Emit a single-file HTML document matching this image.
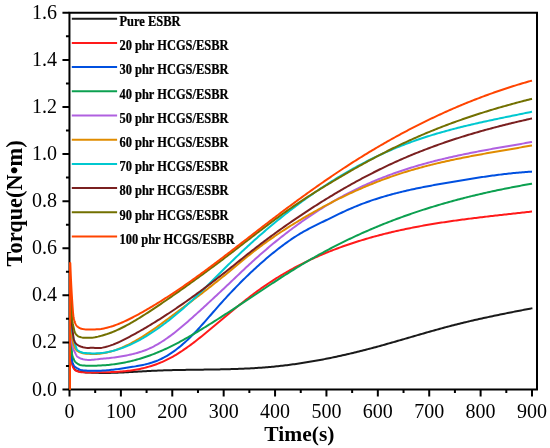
<!DOCTYPE html>
<html><head><meta charset="utf-8"><title>Torque vs Time</title><style>html,body{margin:0;padding:0;background:#fff;width:550px;height:448px;overflow:hidden}svg{display:block}</style></head><body>
<svg width="550" height="448" viewBox="0 0 550 448">
<rect width="550" height="448" fill="#fff"/>
<g stroke="#000" stroke-width="2" fill="none">
<path stroke-linecap="square" d="M69.45 12.70L537.00 12.70L537.00 389.60L69.45 389.60Z"/>
<path d="M62.45 389.50H69.45M65.95 365.96H69.45M62.45 342.41H69.45M65.95 318.87H69.45M62.45 295.32H69.45M65.95 271.78H69.45M62.45 248.24H69.45M65.95 224.69H69.45M62.45 201.15H69.45M65.95 177.61H69.45M62.45 154.06H69.45M65.95 130.52H69.45M62.45 106.97H69.45M65.95 83.43H69.45M62.45 59.89H69.45M65.95 36.34H69.45M62.45 12.80H69.45M69.50 389.60V396.60M95.19 389.60V393.10M120.89 389.60V396.60M146.58 389.60V393.10M172.28 389.60V396.60M197.97 389.60V393.10M223.67 389.60V396.60M249.36 389.60V393.10M275.06 389.60V396.60M300.75 389.60V393.10M326.44 389.60V396.60M352.14 389.60V393.10M377.83 389.60V396.60M403.53 389.60V393.10M429.22 389.60V396.60M454.92 389.60V393.10M480.61 389.60V396.60M506.31 389.60V393.10M532.00 389.60V396.60"/>
</g>
<g fill="none" stroke-width="2.00" stroke-linejoin="round" stroke-linecap="butt">
<path stroke="#1a1a1a" d="M70.0 389.5L70.0 330.0L70.50 330.00L70.75 343.36L71.00 352.00L71.25 355.80L71.50 358.58L71.75 360.57L72.00 362.00L72.25 363.15L72.50 364.16L72.75 365.04L73.00 365.81L73.25 366.48L73.50 367.06L73.75 367.56L74.00 368.00L74.25 368.40L74.50 368.78L74.75 369.12L75.00 369.43L75.25 369.71L75.50 369.94L75.75 370.14L76.00 370.30L76.25 370.43L76.50 370.55L76.75 370.67L77.00 370.78L77.25 370.88L77.50 370.97L77.75 371.06L78.00 371.14L78.25 371.21L78.50 371.28L78.75 371.35L79.00 371.41L79.25 371.46L79.50 371.51L79.75 371.56L80.00 371.60L81.50 371.84L83.00 372.05L84.50 372.23L86.00 372.38L87.50 372.50L89.00 372.57L90.50 372.60L92.00 372.64L93.50 372.69L95.00 372.75L96.50 372.80L98.00 372.86L99.50 372.91L101.00 372.94L102.50 372.96L104.00 372.96L105.50 372.96L107.00 372.95L108.50 372.93L110.00 372.90L111.50 372.87L113.00 372.83L114.50 372.78L116.00 372.73L117.50 372.68L119.00 372.62L120.50 372.55L122.00 372.48L123.50 372.41L125.00 372.33L126.50 372.25L128.00 372.17L129.50 372.09L131.00 372.00L132.50 371.92L134.00 371.83L135.50 371.74L137.00 371.65L138.50 371.56L140.00 371.47L141.50 371.38L143.00 371.30L144.50 371.21L146.00 371.13L147.50 371.05L149.00 370.97L150.50 370.90L152.00 370.82L153.50 370.76L155.00 370.69L156.50 370.63L158.00 370.57L159.50 370.51L161.00 370.46L162.50 370.41L164.00 370.36L165.50 370.31L167.00 370.27L168.50 370.23L170.00 370.19L171.50 370.15L173.00 370.11L174.50 370.08L176.00 370.05L177.50 370.02L179.00 369.99L180.50 369.96L182.00 369.93L183.50 369.91L185.00 369.88L186.50 369.86L188.00 369.84L189.50 369.82L191.00 369.79L192.50 369.77L194.00 369.75L195.50 369.73L197.00 369.71L198.50 369.70L200.00 369.68L201.50 369.66L203.00 369.64L204.50 369.62L206.00 369.60L207.50 369.58L209.00 369.55L210.50 369.53L212.00 369.51L213.50 369.49L215.00 369.46L216.50 369.44L218.00 369.41L219.50 369.38L221.00 369.35L222.50 369.32L224.00 369.29L225.50 369.25L227.00 369.22L228.50 369.18L230.00 369.14L231.50 369.10L233.00 369.05L234.50 369.00L236.00 368.96L237.50 368.90L239.00 368.85L240.50 368.79L242.00 368.73L243.50 368.67L245.00 368.60L246.50 368.54L248.00 368.46L249.50 368.39L251.00 368.31L252.50 368.23L254.00 368.14L255.50 368.05L257.00 367.96L258.50 367.86L260.00 367.76L261.50 367.65L263.00 367.54L264.50 367.43L266.00 367.31L267.50 367.18L269.00 367.05L270.50 366.92L272.00 366.78L273.50 366.64L275.00 366.49L276.50 366.34L278.00 366.18L279.50 366.02L281.00 365.86L282.50 365.69L284.00 365.51L285.50 365.33L287.00 365.15L288.50 364.96L290.00 364.76L291.50 364.56L293.00 364.36L294.50 364.15L296.00 363.94L297.50 363.73L299.00 363.51L300.50 363.28L302.00 363.05L303.50 362.82L305.00 362.58L306.50 362.34L308.00 362.10L309.50 361.85L311.00 361.59L312.50 361.33L314.00 361.07L315.50 360.81L317.00 360.54L318.50 360.26L320.00 359.98L321.50 359.70L323.00 359.41L324.50 359.12L326.00 358.83L327.50 358.53L329.00 358.23L330.50 357.93L332.00 357.62L333.50 357.31L335.00 356.99L336.50 356.67L338.00 356.35L339.50 356.02L341.00 355.69L342.50 355.35L344.00 355.02L345.50 354.67L347.00 354.33L348.50 353.98L350.00 353.63L351.50 353.27L353.00 352.92L354.50 352.55L356.00 352.19L357.50 351.82L359.00 351.45L360.50 351.07L362.00 350.70L363.50 350.32L365.00 349.93L366.50 349.54L368.00 349.15L369.50 348.76L371.00 348.36L372.50 347.96L374.00 347.56L375.50 347.16L377.00 346.75L378.50 346.34L380.00 345.92L381.50 345.51L383.00 345.09L384.50 344.67L386.00 344.25L387.50 343.83L389.00 343.40L390.50 342.98L392.00 342.55L393.50 342.12L395.00 341.69L396.50 341.26L398.00 340.82L399.50 340.39L401.00 339.96L402.50 339.52L404.00 339.09L405.50 338.65L407.00 338.21L408.50 337.78L410.00 337.34L411.50 336.90L413.00 336.47L414.50 336.03L416.00 335.60L417.50 335.16L419.00 334.73L420.50 334.29L422.00 333.86L423.50 333.43L425.00 333.00L426.50 332.57L428.00 332.14L429.50 331.71L431.00 331.29L432.50 330.87L434.00 330.44L435.50 330.02L437.00 329.61L438.50 329.19L440.00 328.78L441.50 328.37L443.00 327.96L444.50 327.56L446.00 327.15L447.50 326.75L449.00 326.36L450.50 325.96L452.00 325.57L453.50 325.19L455.00 324.80L456.50 324.42L458.00 324.04L459.50 323.67L461.00 323.30L462.50 322.93L464.00 322.57L465.50 322.21L467.00 321.85L468.50 321.49L470.00 321.14L471.50 320.79L473.00 320.44L474.50 320.10L476.00 319.76L477.50 319.42L479.00 319.08L480.50 318.75L482.00 318.41L483.50 318.08L485.00 317.76L486.50 317.43L488.00 317.11L489.50 316.79L491.00 316.47L492.50 316.15L494.00 315.83L495.50 315.52L497.00 315.21L498.50 314.90L500.00 314.59L501.50 314.28L503.00 313.98L504.50 313.67L506.00 313.37L507.50 313.07L509.00 312.77L510.50 312.47L512.00 312.17L513.50 311.88L515.00 311.58L516.50 311.29L518.00 310.99L519.50 310.70L521.00 310.41L522.50 310.12L524.00 309.83L525.50 309.54L527.00 309.25L528.50 308.96L530.00 308.67L531.50 308.38L532.40 308.21"/>
<path stroke="#ff1a1a" d="M70.0 389.5L70.0 320.0L70.50 320.00L70.75 333.79L71.00 345.00L71.25 354.53L71.50 359.18L71.75 361.58L72.00 363.31L72.25 364.55L72.50 365.50L72.75 366.29L73.00 366.96L73.25 367.54L73.50 368.02L73.75 368.44L74.00 368.80L74.25 369.13L74.50 369.44L74.75 369.72L75.00 369.98L75.25 370.21L75.50 370.41L75.75 370.57L76.00 370.70L76.25 370.81L76.50 370.91L76.75 371.01L77.00 371.11L77.25 371.20L77.50 371.29L77.75 371.37L78.00 371.45L78.25 371.52L78.50 371.60L78.75 371.66L79.00 371.73L79.25 371.79L79.50 371.84L79.75 371.90L80.00 371.95L81.50 372.16L83.00 372.26L84.50 372.35L86.00 372.42L87.50 372.47L89.00 372.48L90.50 372.46L92.00 372.44L93.50 372.41L95.00 372.39L96.50 372.36L98.00 372.34L99.50 372.33L101.00 372.32L102.50 372.31L104.00 372.29L105.50 372.27L107.00 372.23L108.50 372.20L110.00 372.15L111.50 372.10L113.00 372.04L114.50 371.97L116.00 371.89L117.50 371.80L119.00 371.70L120.50 371.59L122.00 371.47L123.50 371.33L125.00 371.19L126.50 371.02L128.00 370.85L129.50 370.66L131.00 370.46L132.50 370.24L134.00 370.01L135.50 369.75L137.00 369.49L138.50 369.20L140.00 368.90L141.50 368.57L143.00 368.23L144.50 367.87L146.00 367.49L147.50 367.09L149.00 366.66L150.50 366.22L152.00 365.75L153.50 365.26L155.00 364.74L156.50 364.20L158.00 363.64L159.50 363.05L161.00 362.44L162.50 361.80L164.00 361.13L165.50 360.44L167.00 359.71L168.50 358.96L170.00 358.18L171.50 357.37L173.00 356.54L174.50 355.67L176.00 354.78L177.50 353.86L179.00 352.92L180.50 351.95L182.00 350.96L183.50 349.95L185.00 348.92L186.50 347.87L188.00 346.80L189.50 345.71L191.00 344.60L192.50 343.47L194.00 342.33L195.50 341.18L197.00 340.01L198.50 338.83L200.00 337.64L201.50 336.43L203.00 335.22L204.50 334.00L206.00 332.77L207.50 331.53L209.00 330.28L210.50 329.03L212.00 327.78L213.50 326.52L215.00 325.26L216.50 324.00L218.00 322.73L219.50 321.47L221.00 320.21L222.50 318.95L224.00 317.69L225.50 316.44L227.00 315.18L228.50 313.93L230.00 312.69L231.50 311.45L233.00 310.21L234.50 308.98L236.00 307.76L237.50 306.54L239.00 305.32L240.50 304.12L242.00 302.92L243.50 301.73L245.00 300.54L246.50 299.37L248.00 298.20L249.50 297.05L251.00 295.90L252.50 294.76L254.00 293.64L255.50 292.52L257.00 291.42L258.50 290.33L260.00 289.25L261.50 288.18L263.00 287.13L264.50 286.09L266.00 285.06L267.50 284.05L269.00 283.04L270.50 282.05L272.00 281.07L273.50 280.10L275.00 279.15L276.50 278.20L278.00 277.27L279.50 276.35L281.00 275.44L282.50 274.54L284.00 273.65L285.50 272.78L287.00 271.91L288.50 271.06L290.00 270.21L291.50 269.38L293.00 268.56L294.50 267.74L296.00 266.94L297.50 266.15L299.00 265.37L300.50 264.59L302.00 263.83L303.50 263.08L305.00 262.34L306.50 261.60L308.00 260.88L309.50 260.16L311.00 259.46L312.50 258.76L314.00 258.07L315.50 257.39L317.00 256.72L318.50 256.06L320.00 255.41L321.50 254.76L323.00 254.13L324.50 253.50L326.00 252.88L327.50 252.27L329.00 251.66L330.50 251.06L332.00 250.47L333.50 249.89L335.00 249.32L336.50 248.75L338.00 248.19L339.50 247.64L341.00 247.09L342.50 246.55L344.00 246.02L345.50 245.50L347.00 244.98L348.50 244.46L350.00 243.96L351.50 243.46L353.00 242.96L354.50 242.47L356.00 241.99L357.50 241.52L359.00 241.05L360.50 240.58L362.00 240.12L363.50 239.67L365.00 239.22L366.50 238.78L368.00 238.34L369.50 237.91L371.00 237.49L372.50 237.07L374.00 236.65L375.50 236.25L377.00 235.84L378.50 235.44L380.00 235.05L381.50 234.66L383.00 234.28L384.50 233.90L386.00 233.52L387.50 233.16L389.00 232.79L390.50 232.43L392.00 232.08L393.50 231.73L395.00 231.38L396.50 231.04L398.00 230.70L399.50 230.37L401.00 230.04L402.50 229.72L404.00 229.40L405.50 229.08L407.00 228.77L408.50 228.46L410.00 228.16L411.50 227.86L413.00 227.57L414.50 227.27L416.00 226.99L417.50 226.70L419.00 226.42L420.50 226.14L422.00 225.87L423.50 225.60L425.00 225.33L426.50 225.07L428.00 224.81L429.50 224.55L431.00 224.30L432.50 224.05L434.00 223.80L435.50 223.56L437.00 223.31L438.50 223.08L440.00 222.84L441.50 222.61L443.00 222.38L444.50 222.15L446.00 221.92L447.50 221.70L449.00 221.48L450.50 221.26L452.00 221.05L453.50 220.84L455.00 220.63L456.50 220.42L458.00 220.21L459.50 220.01L461.00 219.81L462.50 219.61L464.00 219.41L465.50 219.21L467.00 219.02L468.50 218.82L470.00 218.63L471.50 218.44L473.00 218.26L474.50 218.07L476.00 217.89L477.50 217.70L479.00 217.52L480.50 217.34L482.00 217.16L483.50 216.98L485.00 216.81L486.50 216.63L488.00 216.46L489.50 216.28L491.00 216.11L492.50 215.94L494.00 215.77L495.50 215.60L497.00 215.43L498.50 215.26L500.00 215.09L501.50 214.92L503.00 214.76L504.50 214.59L506.00 214.42L507.50 214.26L509.00 214.09L510.50 213.92L512.00 213.76L513.50 213.59L515.00 213.43L516.50 213.26L518.00 213.10L519.50 212.93L521.00 212.76L522.50 212.60L524.00 212.43L525.50 212.26L527.00 212.10L528.50 211.93L530.00 211.76L531.50 211.59L532.00 211.53"/>
<path stroke="#0050e0" d="M70.0 389.5L70.0 315.0L70.50 315.00L70.75 327.83L71.00 338.58L71.25 346.31L71.50 352.45L71.75 357.30L72.00 360.00L72.25 361.22L72.50 362.23L72.75 363.05L73.00 363.73L73.25 364.27L73.50 364.73L73.75 365.13L74.00 365.50L74.25 365.85L74.50 366.16L74.75 366.45L75.00 366.70L75.25 366.93L75.50 367.14L75.75 367.33L76.00 367.50L76.25 367.66L76.50 367.83L76.75 367.99L77.00 368.14L77.25 368.30L77.50 368.45L77.75 368.60L78.00 368.74L78.25 368.88L78.50 369.01L78.75 369.14L79.00 369.26L79.25 369.38L79.50 369.49L79.75 369.60L80.00 369.69L81.50 370.12L83.00 370.31L84.50 370.45L86.00 370.56L87.50 370.65L89.00 370.69L90.50 370.70L92.00 370.71L93.50 370.73L95.00 370.75L96.50 370.76L98.00 370.76L99.50 370.73L101.00 370.68L102.50 370.61L104.00 370.51L105.50 370.41L107.00 370.29L108.50 370.15L110.00 370.01L111.50 369.85L113.00 369.68L114.50 369.50L116.00 369.31L117.50 369.12L119.00 368.91L120.50 368.70L122.00 368.48L123.50 368.26L125.00 368.04L126.50 367.80L128.00 367.57L129.50 367.34L131.00 367.10L132.50 366.86L134.00 366.62L135.50 366.37L137.00 366.11L138.50 365.84L140.00 365.56L141.50 365.26L143.00 364.94L144.50 364.61L146.00 364.25L147.50 363.87L149.00 363.46L150.50 363.02L152.00 362.56L153.50 362.06L155.00 361.52L156.50 360.95L158.00 360.34L159.50 359.69L161.00 359.00L162.50 358.26L164.00 357.48L165.50 356.65L167.00 355.78L168.50 354.87L170.00 353.92L171.50 352.93L173.00 351.90L174.50 350.83L176.00 349.71L177.50 348.56L179.00 347.38L180.50 346.15L182.00 344.88L183.50 343.58L185.00 342.25L186.50 340.87L188.00 339.46L189.50 338.02L191.00 336.54L192.50 335.03L194.00 333.49L195.50 331.93L197.00 330.33L198.50 328.71L200.00 327.08L201.50 325.42L203.00 323.75L204.50 322.06L206.00 320.36L207.50 318.66L209.00 316.94L210.50 315.22L212.00 313.50L213.50 311.78L215.00 310.07L216.50 308.35L218.00 306.65L219.50 304.95L221.00 303.27L222.50 301.60L224.00 299.94L225.50 298.30L227.00 296.67L228.50 295.05L230.00 293.44L231.50 291.85L233.00 290.27L234.50 288.70L236.00 287.15L237.50 285.61L239.00 284.08L240.50 282.56L242.00 281.06L243.50 279.57L245.00 278.10L246.50 276.64L248.00 275.19L249.50 273.75L251.00 272.33L252.50 270.92L254.00 269.53L255.50 268.15L257.00 266.78L258.50 265.42L260.00 264.08L261.50 262.75L263.00 261.44L264.50 260.14L266.00 258.85L267.50 257.58L269.00 256.32L270.50 255.07L272.00 253.84L273.50 252.62L275.00 251.42L276.50 250.23L278.00 249.05L279.50 247.89L281.00 246.74L282.50 245.61L284.00 244.49L285.50 243.40L287.00 242.32L288.50 241.25L290.00 240.21L291.50 239.19L293.00 238.18L294.50 237.19L296.00 236.23L297.50 235.28L299.00 234.36L300.50 233.46L302.00 232.58L303.50 231.72L305.00 230.88L306.50 230.06L308.00 229.25L309.50 228.46L311.00 227.68L312.50 226.92L314.00 226.16L315.50 225.41L317.00 224.67L318.50 223.93L320.00 223.19L321.50 222.46L323.00 221.73L324.50 221.00L326.00 220.27L327.50 219.54L329.00 218.80L330.50 218.07L332.00 217.33L333.50 216.60L335.00 215.87L336.50 215.14L338.00 214.42L339.50 213.70L341.00 212.98L342.50 212.27L344.00 211.57L345.50 210.88L347.00 210.20L348.50 209.52L350.00 208.86L351.50 208.21L353.00 207.57L354.50 206.94L356.00 206.32L357.50 205.71L359.00 205.11L360.50 204.52L362.00 203.94L363.50 203.38L365.00 202.82L366.50 202.27L368.00 201.73L369.50 201.20L371.00 200.68L372.50 200.17L374.00 199.67L375.50 199.18L377.00 198.69L378.50 198.22L380.00 197.75L381.50 197.29L383.00 196.84L384.50 196.39L386.00 195.96L387.50 195.53L389.00 195.11L390.50 194.69L392.00 194.29L393.50 193.89L395.00 193.49L396.50 193.11L398.00 192.73L399.50 192.35L401.00 191.98L402.50 191.62L404.00 191.26L405.50 190.91L407.00 190.57L408.50 190.23L410.00 189.89L411.50 189.56L413.00 189.24L414.50 188.92L416.00 188.60L417.50 188.29L419.00 187.98L420.50 187.67L422.00 187.37L423.50 187.08L425.00 186.79L426.50 186.50L428.00 186.21L429.50 185.93L431.00 185.65L432.50 185.37L434.00 185.09L435.50 184.82L437.00 184.55L438.50 184.28L440.00 184.02L441.50 183.75L443.00 183.49L444.50 183.23L446.00 182.97L447.50 182.71L449.00 182.45L450.50 182.19L452.00 181.93L453.50 181.68L455.00 181.42L456.50 181.17L458.00 180.92L459.50 180.66L461.00 180.41L462.50 180.17L464.00 179.92L465.50 179.67L467.00 179.43L468.50 179.18L470.00 178.94L471.50 178.70L473.00 178.47L474.50 178.23L476.00 178.00L477.50 177.77L479.00 177.54L480.50 177.31L482.00 177.09L483.50 176.87L485.00 176.65L486.50 176.43L488.00 176.22L489.50 176.01L491.00 175.80L492.50 175.60L494.00 175.40L495.50 175.20L497.00 175.00L498.50 174.81L500.00 174.63L501.50 174.44L503.00 174.26L504.50 174.08L506.00 173.91L507.50 173.74L509.00 173.58L510.50 173.42L512.00 173.26L513.50 173.11L515.00 172.96L516.50 172.82L518.00 172.68L519.50 172.54L521.00 172.41L522.50 172.29L524.00 172.17L525.50 172.06L527.00 171.95L528.50 171.84L530.00 171.74L531.50 171.65L532.00 171.62"/>
<path stroke="#0ca050" d="M70.0 389.5L70.0 310.0L70.50 310.00L70.75 323.04L71.00 333.82L71.25 341.20L71.50 346.66L71.75 350.88L72.00 353.40L72.25 354.75L72.50 355.80L72.75 356.63L73.00 357.31L73.25 357.91L73.50 358.50L73.75 359.10L74.00 359.67L74.25 360.21L74.50 360.71L74.75 361.15L75.00 361.54L75.25 361.85L75.50 362.09L75.75 362.31L76.00 362.52L76.25 362.73L76.50 362.92L76.75 363.12L77.00 363.30L77.25 363.48L77.50 363.65L77.75 363.81L78.00 363.97L78.25 364.12L78.50 364.26L78.75 364.39L79.00 364.52L79.25 364.63L79.50 364.74L79.75 364.85L80.00 364.94L81.50 365.34L83.00 365.49L84.50 365.60L86.00 365.69L87.50 365.76L89.00 365.79L90.50 365.78L92.00 365.76L93.50 365.73L95.00 365.69L96.50 365.64L98.00 365.59L99.50 365.53L101.00 365.46L102.50 365.37L104.00 365.27L105.50 365.15L107.00 365.02L108.50 364.88L110.00 364.73L111.50 364.56L113.00 364.38L114.50 364.18L116.00 363.98L117.50 363.75L119.00 363.52L120.50 363.27L122.00 363.00L123.50 362.72L125.00 362.43L126.50 362.13L128.00 361.80L129.50 361.47L131.00 361.12L132.50 360.75L134.00 360.37L135.50 359.98L137.00 359.57L138.50 359.15L140.00 358.71L141.50 358.25L143.00 357.79L144.50 357.30L146.00 356.80L147.50 356.29L149.00 355.76L150.50 355.22L152.00 354.66L153.50 354.09L155.00 353.50L156.50 352.90L158.00 352.28L159.50 351.65L161.00 351.01L162.50 350.35L164.00 349.68L165.50 348.99L167.00 348.30L168.50 347.58L170.00 346.86L171.50 346.12L173.00 345.37L174.50 344.61L176.00 343.84L177.50 343.06L179.00 342.26L180.50 341.46L182.00 340.64L183.50 339.82L185.00 338.99L186.50 338.15L188.00 337.29L189.50 336.44L191.00 335.57L192.50 334.70L194.00 333.81L195.50 332.93L197.00 332.03L198.50 331.13L200.00 330.23L201.50 329.32L203.00 328.40L204.50 327.48L206.00 326.56L207.50 325.63L209.00 324.69L210.50 323.75L212.00 322.81L213.50 321.87L215.00 320.92L216.50 319.97L218.00 319.01L219.50 318.06L221.00 317.10L222.50 316.13L224.00 315.17L225.50 314.20L227.00 313.23L228.50 312.26L230.00 311.29L231.50 310.31L233.00 309.33L234.50 308.35L236.00 307.37L237.50 306.39L239.00 305.40L240.50 304.42L242.00 303.43L243.50 302.44L245.00 301.45L246.50 300.46L248.00 299.46L249.50 298.47L251.00 297.47L252.50 296.48L254.00 295.48L255.50 294.48L257.00 293.49L258.50 292.49L260.00 291.49L261.50 290.49L263.00 289.49L264.50 288.50L266.00 287.50L267.50 286.51L269.00 285.52L270.50 284.53L272.00 283.54L273.50 282.55L275.00 281.57L276.50 280.59L278.00 279.61L279.50 278.63L281.00 277.66L282.50 276.69L284.00 275.73L285.50 274.77L287.00 273.81L288.50 272.86L290.00 271.91L291.50 270.96L293.00 270.03L294.50 269.09L296.00 268.16L297.50 267.24L299.00 266.33L300.50 265.42L302.00 264.51L303.50 263.62L305.00 262.72L306.50 261.84L308.00 260.96L309.50 260.09L311.00 259.22L312.50 258.36L314.00 257.51L315.50 256.66L317.00 255.82L318.50 254.98L320.00 254.15L321.50 253.32L323.00 252.51L324.50 251.69L326.00 250.89L327.50 250.08L329.00 249.29L330.50 248.50L332.00 247.72L333.50 246.94L335.00 246.16L336.50 245.40L338.00 244.64L339.50 243.88L341.00 243.13L342.50 242.39L344.00 241.65L345.50 240.91L347.00 240.19L348.50 239.46L350.00 238.75L351.50 238.03L353.00 237.33L354.50 236.63L356.00 235.93L357.50 235.24L359.00 234.55L360.50 233.87L362.00 233.20L363.50 232.53L365.00 231.87L366.50 231.21L368.00 230.55L369.50 229.90L371.00 229.26L372.50 228.62L374.00 227.98L375.50 227.35L377.00 226.73L378.50 226.11L380.00 225.50L381.50 224.89L383.00 224.28L384.50 223.68L386.00 223.09L387.50 222.50L389.00 221.91L390.50 221.33L392.00 220.75L393.50 220.18L395.00 219.61L396.50 219.05L398.00 218.49L399.50 217.94L401.00 217.39L402.50 216.84L404.00 216.30L405.50 215.77L407.00 215.24L408.50 214.71L410.00 214.19L411.50 213.67L413.00 213.15L414.50 212.64L416.00 212.14L417.50 211.63L419.00 211.14L420.50 210.64L422.00 210.15L423.50 209.67L425.00 209.19L426.50 208.71L428.00 208.24L429.50 207.77L431.00 207.30L432.50 206.84L434.00 206.39L435.50 205.93L437.00 205.48L438.50 205.04L440.00 204.60L441.50 204.16L443.00 203.72L444.50 203.29L446.00 202.87L447.50 202.44L449.00 202.02L450.50 201.61L452.00 201.19L453.50 200.79L455.00 200.38L456.50 199.98L458.00 199.58L459.50 199.19L461.00 198.79L462.50 198.41L464.00 198.02L465.50 197.64L467.00 197.26L468.50 196.89L470.00 196.51L471.50 196.15L473.00 195.78L474.50 195.42L476.00 195.06L477.50 194.70L479.00 194.35L480.50 194.00L482.00 193.66L483.50 193.31L485.00 192.97L486.50 192.63L488.00 192.30L489.50 191.97L491.00 191.64L492.50 191.31L494.00 190.99L495.50 190.67L497.00 190.35L498.50 190.04L500.00 189.72L501.50 189.41L503.00 189.11L504.50 188.80L506.00 188.50L507.50 188.20L509.00 187.91L510.50 187.61L512.00 187.32L513.50 187.03L515.00 186.74L516.50 186.46L518.00 186.18L519.50 185.90L521.00 185.62L522.50 185.35L524.00 185.08L525.50 184.81L527.00 184.54L528.50 184.27L530.00 184.01L531.50 183.75L532.00 183.66"/>
<path stroke="#b060e0" d="M70.0 389.5L70.0 300.0L70.50 300.00L70.75 311.28L71.00 321.37L71.25 329.53L71.50 335.00L71.75 338.57L72.00 341.52L72.25 343.88L72.50 345.67L72.75 346.91L73.00 347.87L73.25 348.69L73.50 349.39L73.75 350.01L74.00 350.55L74.25 351.05L74.50 351.53L74.75 352.00L75.00 352.50L75.25 353.03L75.50 353.56L75.75 354.09L76.00 354.61L76.25 355.10L76.50 355.56L76.75 355.96L77.00 356.31L77.25 356.58L77.50 356.77L77.75 356.94L78.00 357.10L78.25 357.26L78.50 357.41L78.75 357.56L79.00 357.70L79.25 357.84L79.50 357.96L79.75 358.09L80.00 358.21L81.50 358.81L83.00 359.24L84.50 359.53L86.00 359.72L87.50 359.88L89.00 359.95L90.50 359.91L92.00 359.82L93.50 359.70L95.00 359.55L96.50 359.38L98.00 359.20L99.50 359.00L101.00 358.86L102.50 358.73L104.00 358.60L105.50 358.45L107.00 358.30L108.50 358.15L110.00 357.98L111.50 357.80L113.00 357.62L114.50 357.42L116.00 357.22L117.50 357.00L119.00 356.77L120.50 356.53L122.00 356.28L123.50 356.01L125.00 355.73L126.50 355.44L128.00 355.14L129.50 354.82L131.00 354.48L132.50 354.13L134.00 353.76L135.50 353.37L137.00 352.96L138.50 352.53L140.00 352.07L141.50 351.58L143.00 351.07L144.50 350.53L146.00 349.95L147.50 349.34L149.00 348.70L150.50 348.01L152.00 347.29L153.50 346.54L155.00 345.74L156.50 344.92L158.00 344.06L159.50 343.16L161.00 342.24L162.50 341.28L164.00 340.30L165.50 339.29L167.00 338.25L168.50 337.18L170.00 336.09L171.50 334.97L173.00 333.84L174.50 332.68L176.00 331.49L177.50 330.29L179.00 329.07L180.50 327.84L182.00 326.58L183.50 325.32L185.00 324.03L186.50 322.74L188.00 321.43L189.50 320.11L191.00 318.78L192.50 317.44L194.00 316.10L195.50 314.74L197.00 313.38L198.50 312.02L200.00 310.65L201.50 309.28L203.00 307.91L204.50 306.53L206.00 305.16L207.50 303.78L209.00 302.39L210.50 301.01L212.00 299.62L213.50 298.23L215.00 296.84L216.50 295.44L218.00 294.04L219.50 292.64L221.00 291.23L222.50 289.82L224.00 288.41L225.50 287.00L227.00 285.58L228.50 284.16L230.00 282.74L231.50 281.32L233.00 279.89L234.50 278.46L236.00 277.03L237.50 275.60L239.00 274.18L240.50 272.75L242.00 271.33L243.50 269.92L245.00 268.51L246.50 267.10L248.00 265.71L249.50 264.32L251.00 262.94L252.50 261.57L254.00 260.20L255.50 258.85L257.00 257.51L258.50 256.18L260.00 254.85L261.50 253.54L263.00 252.23L264.50 250.93L266.00 249.65L267.50 248.37L269.00 247.10L270.50 245.84L272.00 244.59L273.50 243.35L275.00 242.12L276.50 240.90L278.00 239.69L279.50 238.48L281.00 237.29L282.50 236.11L284.00 234.93L285.50 233.76L287.00 232.61L288.50 231.46L290.00 230.32L291.50 229.19L293.00 228.07L294.50 226.96L296.00 225.86L297.50 224.77L299.00 223.68L300.50 222.61L302.00 221.54L303.50 220.49L305.00 219.44L306.50 218.41L308.00 217.38L309.50 216.36L311.00 215.35L312.50 214.35L314.00 213.36L315.50 212.38L317.00 211.40L318.50 210.44L320.00 209.48L321.50 208.54L323.00 207.60L324.50 206.68L326.00 205.76L327.50 204.85L329.00 203.95L330.50 203.06L332.00 202.18L333.50 201.31L335.00 200.44L336.50 199.59L338.00 198.74L339.50 197.91L341.00 197.08L342.50 196.27L344.00 195.46L345.50 194.66L347.00 193.87L348.50 193.09L350.00 192.31L351.50 191.55L353.00 190.80L354.50 190.05L356.00 189.32L357.50 188.59L359.00 187.87L360.50 187.16L362.00 186.46L363.50 185.77L365.00 185.08L366.50 184.41L368.00 183.74L369.50 183.08L371.00 182.43L372.50 181.78L374.00 181.15L375.50 180.52L377.00 179.90L378.50 179.28L380.00 178.68L381.50 178.08L383.00 177.49L384.50 176.91L386.00 176.33L387.50 175.76L389.00 175.20L390.50 174.64L392.00 174.10L393.50 173.55L395.00 173.02L396.50 172.49L398.00 171.97L399.50 171.46L401.00 170.95L402.50 170.45L404.00 169.95L405.50 169.46L407.00 168.98L408.50 168.50L410.00 168.03L411.50 167.56L413.00 167.10L414.50 166.65L416.00 166.20L417.50 165.76L419.00 165.32L420.50 164.89L422.00 164.46L423.50 164.04L425.00 163.62L426.50 163.21L428.00 162.80L429.50 162.40L431.00 162.00L432.50 161.61L434.00 161.22L435.50 160.84L437.00 160.46L438.50 160.09L440.00 159.72L441.50 159.35L443.00 158.99L444.50 158.63L446.00 158.28L447.50 157.93L449.00 157.58L450.50 157.24L452.00 156.90L453.50 156.57L455.00 156.24L456.50 155.91L458.00 155.58L459.50 155.26L461.00 154.95L462.50 154.63L464.00 154.32L465.50 154.01L467.00 153.70L468.50 153.40L470.00 153.10L471.50 152.80L473.00 152.50L474.50 152.21L476.00 151.92L477.50 151.63L479.00 151.34L480.50 151.06L482.00 150.78L483.50 150.50L485.00 150.22L486.50 149.94L488.00 149.67L489.50 149.39L491.00 149.12L492.50 148.85L494.00 148.58L495.50 148.32L497.00 148.05L498.50 147.78L500.00 147.52L501.50 147.26L503.00 146.99L504.50 146.73L506.00 146.47L507.50 146.21L509.00 145.95L510.50 145.69L512.00 145.44L513.50 145.18L515.00 144.92L516.50 144.66L518.00 144.40L519.50 144.15L521.00 143.89L522.50 143.63L524.00 143.37L525.50 143.11L527.00 142.86L528.50 142.60L530.00 142.34L531.50 142.08L532.00 141.99"/>
<path stroke="#e08c00" d="M70.0 389.5L70.0 300.0L70.50 300.00L70.75 309.53L71.00 318.21L71.25 325.28L71.50 330.00L71.75 333.02L72.00 335.54L72.25 337.63L72.50 339.36L72.75 340.79L73.00 342.00L73.25 343.06L73.50 344.02L73.75 344.89L74.00 345.67L74.25 346.36L74.50 346.98L74.75 347.52L75.00 348.00L75.25 348.44L75.50 348.85L75.75 349.23L76.00 349.59L76.25 349.92L76.50 350.22L76.75 350.48L77.00 350.71L77.25 350.90L77.50 351.06L77.75 351.20L78.00 351.35L78.25 351.48L78.50 351.62L78.75 351.75L79.00 351.87L79.25 351.99L79.50 352.11L79.75 352.22L80.00 352.33L81.50 352.89L83.00 353.30L84.50 353.55L86.00 353.68L87.50 353.78L89.00 353.87L90.50 353.95L92.00 354.00L93.50 354.02L95.00 354.00L96.50 353.93L98.00 353.81L99.50 353.67L101.00 353.49L102.50 353.27L104.00 353.02L105.50 352.74L107.00 352.42L108.50 352.07L110.00 351.69L111.50 351.28L113.00 350.84L114.50 350.36L116.00 349.86L117.50 349.32L119.00 348.76L120.50 348.17L122.00 347.55L123.50 346.90L125.00 346.23L126.50 345.52L128.00 344.80L129.50 344.05L131.00 343.27L132.50 342.48L134.00 341.66L135.50 340.82L137.00 339.95L138.50 339.07L140.00 338.17L141.50 337.25L143.00 336.31L144.50 335.36L146.00 334.39L147.50 333.40L149.00 332.40L150.50 331.39L152.00 330.36L153.50 329.32L155.00 328.27L156.50 327.20L158.00 326.13L159.50 325.05L161.00 323.96L162.50 322.87L164.00 321.77L165.50 320.66L167.00 319.56L168.50 318.44L170.00 317.33L171.50 316.22L173.00 315.10L174.50 313.98L176.00 312.87L177.50 311.75L179.00 310.63L180.50 309.50L182.00 308.38L183.50 307.25L185.00 306.13L186.50 305.00L188.00 303.87L189.50 302.73L191.00 301.60L192.50 300.46L194.00 299.32L195.50 298.18L197.00 297.04L198.50 295.89L200.00 294.74L201.50 293.59L203.00 292.43L204.50 291.28L206.00 290.12L207.50 288.95L209.00 287.78L210.50 286.61L212.00 285.44L213.50 284.26L215.00 283.08L216.50 281.89L218.00 280.70L219.50 279.50L221.00 278.30L222.50 277.09L224.00 275.88L225.50 274.66L227.00 273.44L228.50 272.21L230.00 270.98L231.50 269.74L233.00 268.49L234.50 267.24L236.00 265.99L237.50 264.74L239.00 263.49L240.50 262.25L242.00 261.00L243.50 259.76L245.00 258.53L246.50 257.30L248.00 256.09L249.50 254.88L251.00 253.68L252.50 252.50L254.00 251.33L255.50 250.17L257.00 249.02L258.50 247.88L260.00 246.75L261.50 245.63L263.00 244.52L264.50 243.43L266.00 242.34L267.50 241.27L269.00 240.20L270.50 239.14L272.00 238.10L273.50 237.06L275.00 236.03L276.50 235.01L278.00 234.00L279.50 233.00L281.00 232.00L282.50 231.02L284.00 230.04L285.50 229.07L287.00 228.11L288.50 227.15L290.00 226.20L291.50 225.26L293.00 224.33L294.50 223.41L296.00 222.49L297.50 221.57L299.00 220.67L300.50 219.77L302.00 218.87L303.50 217.98L305.00 217.10L306.50 216.22L308.00 215.35L309.50 214.49L311.00 213.63L312.50 212.78L314.00 211.93L315.50 211.09L317.00 210.26L318.50 209.43L320.00 208.61L321.50 207.79L323.00 206.98L324.50 206.18L326.00 205.38L327.50 204.59L329.00 203.80L330.50 203.02L332.00 202.25L333.50 201.48L335.00 200.72L336.50 199.96L338.00 199.22L339.50 198.47L341.00 197.74L342.50 197.01L344.00 196.28L345.50 195.56L347.00 194.85L348.50 194.15L350.00 193.45L351.50 192.75L353.00 192.07L354.50 191.39L356.00 190.71L357.50 190.04L359.00 189.38L360.50 188.72L362.00 188.07L363.50 187.43L365.00 186.79L366.50 186.16L368.00 185.54L369.50 184.92L371.00 184.31L372.50 183.70L374.00 183.10L375.50 182.51L377.00 181.92L378.50 181.34L380.00 180.76L381.50 180.19L383.00 179.63L384.50 179.08L386.00 178.53L387.50 177.98L389.00 177.45L390.50 176.91L392.00 176.39L393.50 175.87L395.00 175.36L396.50 174.85L398.00 174.36L399.50 173.86L401.00 173.38L402.50 172.90L404.00 172.42L405.50 171.96L407.00 171.49L408.50 171.04L410.00 170.59L411.50 170.14L413.00 169.71L414.50 169.27L416.00 168.85L417.50 168.42L419.00 168.01L420.50 167.60L422.00 167.19L423.50 166.79L425.00 166.39L426.50 166.00L428.00 165.62L429.50 165.23L431.00 164.86L432.50 164.48L434.00 164.12L435.50 163.75L437.00 163.39L438.50 163.04L440.00 162.69L441.50 162.34L443.00 162.00L444.50 161.66L446.00 161.32L447.50 160.99L449.00 160.66L450.50 160.34L452.00 160.02L453.50 159.70L455.00 159.38L456.50 159.07L458.00 158.76L459.50 158.46L461.00 158.15L462.50 157.85L464.00 157.55L465.50 157.26L467.00 156.97L468.50 156.68L470.00 156.39L471.50 156.10L473.00 155.82L474.50 155.54L476.00 155.26L477.50 154.98L479.00 154.71L480.50 154.43L482.00 154.16L483.50 153.89L485.00 153.62L486.50 153.35L488.00 153.09L489.50 152.82L491.00 152.56L492.50 152.30L494.00 152.03L495.50 151.77L497.00 151.51L498.50 151.25L500.00 150.99L501.50 150.73L503.00 150.47L504.50 150.22L506.00 149.96L507.50 149.70L509.00 149.44L510.50 149.18L512.00 148.93L513.50 148.67L515.00 148.41L516.50 148.15L518.00 147.89L519.50 147.63L521.00 147.37L522.50 147.11L524.00 146.85L525.50 146.58L527.00 146.32L528.50 146.05L530.00 145.79L531.50 145.52L532.00 145.43"/>
<path stroke="#00c8d0" d="M70.0 389.5L70.0 300.0L70.50 300.00L70.75 307.86L71.00 315.04L71.25 320.94L71.50 325.00L71.75 327.68L72.00 329.90L72.25 331.75L72.50 333.33L72.75 334.71L73.00 336.00L73.25 337.16L73.50 338.15L73.75 339.07L74.00 340.00L74.25 340.97L74.50 341.96L74.75 342.93L75.00 343.86L75.25 344.72L75.50 345.50L75.75 346.24L76.00 346.98L76.25 347.71L76.50 348.38L76.75 348.98L77.00 349.48L77.25 349.85L77.50 350.08L77.75 350.27L78.00 350.45L78.25 350.63L78.50 350.79L78.75 350.96L79.00 351.11L79.25 351.25L79.50 351.39L79.75 351.53L80.00 351.65L81.50 352.28L83.00 352.70L84.50 352.95L86.00 353.08L87.50 353.18L89.00 353.27L90.50 353.35L92.00 353.40L93.50 353.43L95.00 353.42L96.50 353.37L98.00 353.29L99.50 353.19L101.00 353.05L102.50 352.88L104.00 352.67L105.50 352.44L107.00 352.18L108.50 351.89L110.00 351.57L111.50 351.23L113.00 350.85L114.50 350.45L116.00 350.03L117.50 349.57L119.00 349.09L120.50 348.58L122.00 348.05L123.50 347.49L125.00 346.91L126.50 346.30L128.00 345.67L129.50 345.02L131.00 344.34L132.50 343.63L134.00 342.91L135.50 342.16L137.00 341.39L138.50 340.60L140.00 339.78L141.50 338.95L143.00 338.09L144.50 337.21L146.00 336.32L147.50 335.40L149.00 334.46L150.50 333.50L152.00 332.53L153.50 331.53L155.00 330.52L156.50 329.49L158.00 328.44L159.50 327.38L161.00 326.29L162.50 325.19L164.00 324.07L165.50 322.94L167.00 321.79L168.50 320.62L170.00 319.44L171.50 318.24L173.00 317.03L174.50 315.80L176.00 314.55L177.50 313.30L179.00 312.03L180.50 310.74L182.00 309.44L183.50 308.13L185.00 306.80L186.50 305.46L188.00 304.11L189.50 302.75L191.00 301.37L192.50 299.99L194.00 298.59L195.50 297.18L197.00 295.76L198.50 294.32L200.00 292.88L201.50 291.43L203.00 289.97L204.50 288.50L206.00 287.02L207.50 285.54L209.00 284.05L210.50 282.56L212.00 281.06L213.50 279.56L215.00 278.05L216.50 276.55L218.00 275.04L219.50 273.54L221.00 272.04L222.50 270.54L224.00 269.04L225.50 267.55L227.00 266.06L228.50 264.58L230.00 263.11L231.50 261.64L233.00 260.18L234.50 258.73L236.00 257.29L237.50 255.86L239.00 254.43L240.50 253.01L242.00 251.60L243.50 250.20L245.00 248.80L246.50 247.41L248.00 246.03L249.50 244.66L251.00 243.30L252.50 241.94L254.00 240.59L255.50 239.25L257.00 237.92L258.50 236.59L260.00 235.28L261.50 233.97L263.00 232.66L264.50 231.37L266.00 230.08L267.50 228.81L269.00 227.54L270.50 226.27L272.00 225.02L273.50 223.77L275.00 222.53L276.50 221.30L278.00 220.08L279.50 218.86L281.00 217.65L282.50 216.45L284.00 215.26L285.50 214.07L287.00 212.89L288.50 211.73L290.00 210.56L291.50 209.41L293.00 208.26L294.50 207.12L296.00 205.99L297.50 204.87L299.00 203.75L300.50 202.65L302.00 201.55L303.50 200.45L305.00 199.37L306.50 198.29L308.00 197.22L309.50 196.16L311.00 195.11L312.50 194.06L314.00 193.02L315.50 191.99L317.00 190.97L318.50 189.96L320.00 188.95L321.50 187.95L323.00 186.96L324.50 185.97L326.00 185.00L327.50 184.03L329.00 183.06L330.50 182.11L332.00 181.16L333.50 180.23L335.00 179.30L336.50 178.37L338.00 177.46L339.50 176.55L341.00 175.65L342.50 174.76L344.00 173.87L345.50 172.99L347.00 172.12L348.50 171.26L350.00 170.41L351.50 169.56L353.00 168.72L354.50 167.89L356.00 167.07L357.50 166.25L359.00 165.44L360.50 164.64L362.00 163.85L363.50 163.06L365.00 162.28L366.50 161.51L368.00 160.75L369.50 159.99L371.00 159.24L372.50 158.50L374.00 157.77L375.50 157.05L377.00 156.33L378.50 155.62L380.00 154.92L381.50 154.22L383.00 153.53L384.50 152.85L386.00 152.18L387.50 151.52L389.00 150.86L390.50 150.21L392.00 149.57L393.50 148.93L395.00 148.31L396.50 147.69L398.00 147.08L399.50 146.47L401.00 145.87L402.50 145.28L404.00 144.70L405.50 144.13L407.00 143.56L408.50 143.00L410.00 142.45L411.50 141.90L413.00 141.36L414.50 140.83L416.00 140.30L417.50 139.78L419.00 139.27L420.50 138.76L422.00 138.26L423.50 137.76L425.00 137.27L426.50 136.79L428.00 136.31L429.50 135.84L431.00 135.37L432.50 134.91L434.00 134.46L435.50 134.01L437.00 133.56L438.50 133.12L440.00 132.69L441.50 132.26L443.00 131.84L444.50 131.42L446.00 131.00L447.50 130.59L449.00 130.18L450.50 129.78L452.00 129.38L453.50 128.99L455.00 128.60L456.50 128.21L458.00 127.83L459.50 127.46L461.00 127.08L462.50 126.71L464.00 126.34L465.50 125.98L467.00 125.62L468.50 125.26L470.00 124.91L471.50 124.56L473.00 124.21L474.50 123.86L476.00 123.52L477.50 123.18L479.00 122.84L480.50 122.51L482.00 122.17L483.50 121.84L485.00 121.51L486.50 121.19L488.00 120.86L489.50 120.54L491.00 120.22L492.50 119.90L494.00 119.58L495.50 119.26L497.00 118.95L498.50 118.63L500.00 118.32L501.50 118.01L503.00 117.70L504.50 117.39L506.00 117.08L507.50 116.77L509.00 116.46L510.50 116.16L512.00 115.85L513.50 115.54L515.00 115.24L516.50 114.93L518.00 114.62L519.50 114.32L521.00 114.01L522.50 113.70L524.00 113.39L525.50 113.09L527.00 112.78L528.50 112.47L530.00 112.16L531.50 111.85L532.00 111.74"/>
<path stroke="#7a2020" d="M70.0 389.5L70.0 290.0L70.50 290.00L70.75 298.54L71.00 306.38L71.25 313.02L71.50 318.00L71.75 321.69L72.00 324.85L72.25 327.57L72.50 329.95L72.75 332.06L73.00 334.00L73.25 335.85L73.50 337.55L73.75 338.98L74.00 340.00L74.25 340.72L74.50 341.32L74.75 341.84L75.00 342.28L75.25 342.66L75.50 343.00L75.75 343.31L76.00 343.60L76.25 343.86L76.50 344.09L76.75 344.31L77.00 344.51L77.25 344.70L77.50 344.87L77.75 345.03L78.00 345.19L78.25 345.35L78.50 345.50L78.75 345.65L79.00 345.79L79.25 345.92L79.50 346.05L79.75 346.17L80.00 346.29L81.50 346.83L83.00 347.23L84.50 347.59L86.00 347.85L87.50 347.99L89.00 347.93L90.50 347.83L92.00 347.81L93.50 347.84L95.00 347.90L96.50 347.97L98.00 348.02L99.50 348.04L101.00 347.89L102.50 347.63L104.00 347.32L105.50 346.97L107.00 346.57L108.50 346.13L110.00 345.65L111.50 345.13L113.00 344.58L114.50 343.99L116.00 343.37L117.50 342.73L119.00 342.05L120.50 341.36L122.00 340.64L123.50 339.90L125.00 339.14L126.50 338.37L128.00 337.59L129.50 336.79L131.00 335.99L132.50 335.17L134.00 334.35L135.50 333.53L137.00 332.69L138.50 331.85L140.00 331.00L141.50 330.14L143.00 329.27L144.50 328.40L146.00 327.52L147.50 326.63L149.00 325.74L150.50 324.84L152.00 323.93L153.50 323.01L155.00 322.09L156.50 321.16L158.00 320.22L159.50 319.28L161.00 318.33L162.50 317.37L164.00 316.41L165.50 315.44L167.00 314.46L168.50 313.48L170.00 312.49L171.50 311.49L173.00 310.49L174.50 309.48L176.00 308.47L177.50 307.45L179.00 306.42L180.50 305.39L182.00 304.35L183.50 303.31L185.00 302.26L186.50 301.20L188.00 300.14L189.50 299.07L191.00 298.00L192.50 296.92L194.00 295.84L195.50 294.75L197.00 293.66L198.50 292.56L200.00 291.45L201.50 290.34L203.00 289.23L204.50 288.11L206.00 286.98L207.50 285.85L209.00 284.72L210.50 283.58L212.00 282.43L213.50 281.28L215.00 280.13L216.50 278.97L218.00 277.81L219.50 276.64L221.00 275.47L222.50 274.29L224.00 273.11L225.50 271.93L227.00 270.74L228.50 269.55L230.00 268.35L231.50 267.15L233.00 265.95L234.50 264.74L236.00 263.53L237.50 262.32L239.00 261.11L240.50 259.90L242.00 258.70L243.50 257.49L245.00 256.29L246.50 255.09L248.00 253.89L249.50 252.70L251.00 251.52L252.50 250.34L254.00 249.17L255.50 248.00L257.00 246.84L258.50 245.69L260.00 244.54L261.50 243.39L263.00 242.25L264.50 241.12L266.00 240.00L267.50 238.88L269.00 237.76L270.50 236.65L272.00 235.55L273.50 234.45L275.00 233.35L276.50 232.27L278.00 231.18L279.50 230.11L281.00 229.03L282.50 227.97L284.00 226.90L285.50 225.85L287.00 224.80L288.50 223.75L290.00 222.71L291.50 221.67L293.00 220.64L294.50 219.61L296.00 218.59L297.50 217.58L299.00 216.56L300.50 215.56L302.00 214.55L303.50 213.56L305.00 212.56L306.50 211.57L308.00 210.59L309.50 209.61L311.00 208.64L312.50 207.67L314.00 206.71L315.50 205.75L317.00 204.79L318.50 203.84L320.00 202.90L321.50 201.96L323.00 201.02L324.50 200.09L326.00 199.17L327.50 198.25L329.00 197.33L330.50 196.42L332.00 195.52L333.50 194.62L335.00 193.72L336.50 192.83L338.00 191.95L339.50 191.07L341.00 190.19L342.50 189.33L344.00 188.46L345.50 187.60L347.00 186.75L348.50 185.90L350.00 185.05L351.50 184.21L353.00 183.38L354.50 182.55L356.00 181.73L357.50 180.91L359.00 180.10L360.50 179.29L362.00 178.49L363.50 177.69L365.00 176.90L366.50 176.11L368.00 175.33L369.50 174.55L371.00 173.78L372.50 173.02L374.00 172.26L375.50 171.50L377.00 170.75L378.50 170.01L380.00 169.27L381.50 168.54L383.00 167.81L384.50 167.09L386.00 166.37L387.50 165.66L389.00 164.96L390.50 164.25L392.00 163.56L393.50 162.87L395.00 162.19L396.50 161.51L398.00 160.84L399.50 160.17L401.00 159.51L402.50 158.85L404.00 158.20L405.50 157.55L407.00 156.91L408.50 156.28L410.00 155.65L411.50 155.03L413.00 154.41L414.50 153.80L416.00 153.19L417.50 152.58L419.00 151.99L420.50 151.39L422.00 150.81L423.50 150.22L425.00 149.64L426.50 149.07L428.00 148.50L429.50 147.94L431.00 147.38L432.50 146.83L434.00 146.28L435.50 145.73L437.00 145.19L438.50 144.66L440.00 144.13L441.50 143.60L443.00 143.08L444.50 142.56L446.00 142.04L447.50 141.54L449.00 141.03L450.50 140.53L452.00 140.03L453.50 139.54L455.00 139.05L456.50 138.57L458.00 138.09L459.50 137.61L461.00 137.14L462.50 136.67L464.00 136.20L465.50 135.74L467.00 135.28L468.50 134.83L470.00 134.38L471.50 133.93L473.00 133.49L474.50 133.05L476.00 132.62L477.50 132.18L479.00 131.75L480.50 131.33L482.00 130.91L483.50 130.49L485.00 130.07L486.50 129.66L488.00 129.25L489.50 128.84L491.00 128.44L492.50 128.04L494.00 127.64L495.50 127.25L497.00 126.86L498.50 126.47L500.00 126.08L501.50 125.70L503.00 125.32L504.50 124.94L506.00 124.56L507.50 124.19L509.00 123.82L510.50 123.45L512.00 123.09L513.50 122.73L515.00 122.37L516.50 122.01L518.00 121.65L519.50 121.30L521.00 120.95L522.50 120.60L524.00 120.26L525.50 119.91L527.00 119.57L528.50 119.23L530.00 118.89L531.50 118.55L532.00 118.44"/>
<path stroke="#727000" d="M70.0 389.5L70.0 280.0L70.50 280.00L70.75 290.62L71.00 299.57L71.25 306.11L71.50 311.11L71.75 315.11L72.00 318.00L72.25 320.11L72.50 321.89L72.75 323.41L73.00 324.72L73.25 325.90L73.50 327.00L73.75 328.08L74.00 329.14L74.25 330.14L74.50 331.07L74.75 331.89L75.00 332.59L75.25 333.15L75.50 333.54L75.75 333.89L76.00 334.22L76.25 334.52L76.50 334.81L76.75 335.07L77.00 335.32L77.25 335.55L77.50 335.76L77.75 335.95L78.00 336.13L78.25 336.28L78.50 336.42L78.75 336.55L79.00 336.66L79.25 336.75L79.50 336.83L79.75 336.91L80.00 336.98L81.50 337.37L83.00 337.65L84.50 337.79L86.00 337.80L87.50 337.80L89.00 337.80L90.50 337.78L92.00 337.68L93.50 337.49L95.00 337.24L96.50 336.94L98.00 336.61L99.50 336.24L101.00 335.86L102.50 335.46L104.00 335.03L105.50 334.57L107.00 334.08L108.50 333.57L110.00 333.02L111.50 332.45L113.00 331.85L114.50 331.23L116.00 330.58L117.50 329.91L119.00 329.22L120.50 328.51L122.00 327.77L123.50 327.01L125.00 326.24L126.50 325.44L128.00 324.63L129.50 323.80L131.00 322.96L132.50 322.10L134.00 321.22L135.50 320.33L137.00 319.43L138.50 318.51L140.00 317.59L141.50 316.65L143.00 315.70L144.50 314.75L146.00 313.78L147.50 312.81L149.00 311.83L150.50 310.85L152.00 309.86L153.50 308.86L155.00 307.86L156.50 306.86L158.00 305.85L159.50 304.83L161.00 303.81L162.50 302.79L164.00 301.76L165.50 300.73L167.00 299.70L168.50 298.66L170.00 297.62L171.50 296.58L173.00 295.53L174.50 294.48L176.00 293.43L177.50 292.37L179.00 291.31L180.50 290.25L182.00 289.19L183.50 288.12L185.00 287.06L186.50 285.99L188.00 284.92L189.50 283.84L191.00 282.77L192.50 281.69L194.00 280.61L195.50 279.53L197.00 278.44L198.50 277.35L200.00 276.26L201.50 275.17L203.00 274.07L204.50 272.98L206.00 271.88L207.50 270.77L209.00 269.67L210.50 268.56L212.00 267.45L213.50 266.33L215.00 265.22L216.50 264.10L218.00 262.97L219.50 261.85L221.00 260.72L222.50 259.59L224.00 258.46L225.50 257.32L227.00 256.18L228.50 255.04L230.00 253.89L231.50 252.74L233.00 251.59L234.50 250.44L236.00 249.28L237.50 248.13L239.00 246.97L240.50 245.81L242.00 244.65L243.50 243.49L245.00 242.33L246.50 241.17L248.00 240.01L249.50 238.85L251.00 237.69L252.50 236.54L254.00 235.38L255.50 234.23L257.00 233.08L258.50 231.93L260.00 230.79L261.50 229.65L263.00 228.51L264.50 227.37L266.00 226.24L267.50 225.11L269.00 223.99L270.50 222.87L272.00 221.75L273.50 220.64L275.00 219.53L276.50 218.43L278.00 217.33L279.50 216.23L281.00 215.15L282.50 214.06L284.00 212.99L285.50 211.92L287.00 210.85L288.50 209.79L290.00 208.74L291.50 207.70L293.00 206.66L294.50 205.63L296.00 204.60L297.50 203.59L299.00 202.58L300.50 201.58L302.00 200.59L303.50 199.60L305.00 198.62L306.50 197.65L308.00 196.69L309.50 195.73L311.00 194.78L312.50 193.83L314.00 192.89L315.50 191.95L317.00 191.02L318.50 190.09L320.00 189.17L321.50 188.25L323.00 187.33L324.50 186.42L326.00 185.51L327.50 184.60L329.00 183.69L330.50 182.79L332.00 181.89L333.50 180.99L335.00 180.09L336.50 179.20L338.00 178.31L339.50 177.43L341.00 176.54L342.50 175.66L344.00 174.79L345.50 173.92L347.00 173.05L348.50 172.18L350.00 171.32L351.50 170.46L353.00 169.60L354.50 168.75L356.00 167.90L357.50 167.05L359.00 166.21L360.50 165.37L362.00 164.54L363.50 163.71L365.00 162.88L366.50 162.06L368.00 161.24L369.50 160.43L371.00 159.62L372.50 158.82L374.00 158.01L375.50 157.22L377.00 156.43L378.50 155.64L380.00 154.85L381.50 154.08L383.00 153.30L384.50 152.53L386.00 151.77L387.50 151.01L389.00 150.25L390.50 149.50L392.00 148.76L393.50 148.02L395.00 147.28L396.50 146.55L398.00 145.83L399.50 145.11L401.00 144.40L402.50 143.69L404.00 142.98L405.50 142.29L407.00 141.59L408.50 140.91L410.00 140.22L411.50 139.55L413.00 138.87L414.50 138.21L416.00 137.54L417.50 136.89L419.00 136.23L420.50 135.59L422.00 134.94L423.50 134.31L425.00 133.67L426.50 133.04L428.00 132.42L429.50 131.80L431.00 131.19L432.50 130.58L434.00 129.97L435.50 129.37L437.00 128.78L438.50 128.18L440.00 127.60L441.50 127.02L443.00 126.44L444.50 125.86L446.00 125.29L447.50 124.73L449.00 124.17L450.50 123.61L452.00 123.06L453.50 122.51L455.00 121.97L456.50 121.43L458.00 120.89L459.50 120.36L461.00 119.83L462.50 119.31L464.00 118.79L465.50 118.27L467.00 117.76L468.50 117.25L470.00 116.75L471.50 116.24L473.00 115.75L474.50 115.25L476.00 114.76L477.50 114.28L479.00 113.80L480.50 113.32L482.00 112.84L483.50 112.37L485.00 111.90L486.50 111.44L488.00 110.97L489.50 110.52L491.00 110.06L492.50 109.61L494.00 109.16L495.50 108.72L497.00 108.27L498.50 107.83L500.00 107.40L501.50 106.97L503.00 106.54L504.50 106.11L506.00 105.69L507.50 105.27L509.00 104.85L510.50 104.43L512.00 104.02L513.50 103.61L515.00 103.21L516.50 102.80L518.00 102.40L519.50 102.00L521.00 101.61L522.50 101.22L524.00 100.83L525.50 100.44L527.00 100.05L528.50 99.67L530.00 99.29L531.50 98.91L532.00 98.79"/>
<path stroke="#ff4400" d="M70.0 389.5L70.0 263.0L70.30 263.00L70.55 269.54L70.80 275.60L71.05 281.04L71.30 286.00L71.55 290.61L71.80 294.86L72.05 298.76L72.30 302.61L72.55 306.40L72.80 309.92L73.05 312.95L73.30 315.30L73.55 316.90L73.80 318.26L74.05 319.46L74.30 320.51L74.55 321.41L74.80 322.19L75.05 322.85L75.30 323.42L75.55 323.93L75.80 324.41L76.05 324.84L76.30 325.23L76.55 325.58L76.80 325.89L77.05 326.17L77.30 326.41L77.55 326.62L77.80 326.83L78.05 327.02L78.30 327.21L78.55 327.38L78.80 327.55L79.05 327.71L79.30 327.86L79.55 327.99L79.80 328.12L80.00 328.22L81.50 328.72L83.00 329.03L84.50 329.28L86.00 329.47L87.50 329.58L89.00 329.59L90.50 329.57L92.00 329.53L93.50 329.48L95.00 329.42L96.50 329.35L98.00 329.26L99.50 329.14L101.00 328.95L102.50 328.69L104.00 328.40L105.50 328.08L107.00 327.72L108.50 327.33L110.00 326.90L111.50 326.45L113.00 325.97L114.50 325.45L116.00 324.91L117.50 324.35L119.00 323.76L120.50 323.14L122.00 322.51L123.50 321.85L125.00 321.17L126.50 320.47L128.00 319.75L129.50 319.01L131.00 318.26L132.50 317.49L134.00 316.71L135.50 315.92L137.00 315.11L138.50 314.29L140.00 313.47L141.50 312.63L143.00 311.79L144.50 310.94L146.00 310.08L147.50 309.21L149.00 308.33L150.50 307.45L152.00 306.56L153.50 305.66L155.00 304.75L156.50 303.84L158.00 302.92L159.50 301.99L161.00 301.05L162.50 300.11L164.00 299.16L165.50 298.20L167.00 297.23L168.50 296.26L170.00 295.29L171.50 294.30L173.00 293.31L174.50 292.31L176.00 291.31L177.50 290.30L179.00 289.28L180.50 288.26L182.00 287.24L183.50 286.20L185.00 285.16L186.50 284.12L188.00 283.07L189.50 282.02L191.00 280.95L192.50 279.89L194.00 278.82L195.50 277.74L197.00 276.66L198.50 275.58L200.00 274.49L201.50 273.39L203.00 272.30L204.50 271.19L206.00 270.09L207.50 268.97L209.00 267.86L210.50 266.74L212.00 265.62L213.50 264.49L215.00 263.36L216.50 262.23L218.00 261.10L219.50 259.96L221.00 258.82L222.50 257.68L224.00 256.53L225.50 255.38L227.00 254.23L228.50 253.08L230.00 251.93L231.50 250.77L233.00 249.62L234.50 248.46L236.00 247.30L237.50 246.14L239.00 244.98L240.50 243.82L242.00 242.66L243.50 241.49L245.00 240.33L246.50 239.17L248.00 238.00L249.50 236.84L251.00 235.67L252.50 234.51L254.00 233.35L255.50 232.19L257.00 231.03L258.50 229.87L260.00 228.71L261.50 227.55L263.00 226.39L264.50 225.24L266.00 224.08L267.50 222.93L269.00 221.78L270.50 220.64L272.00 219.49L273.50 218.35L275.00 217.21L276.50 216.07L278.00 214.93L279.50 213.80L281.00 212.67L282.50 211.54L284.00 210.42L285.50 209.29L287.00 208.17L288.50 207.06L290.00 205.94L291.50 204.83L293.00 203.72L294.50 202.61L296.00 201.51L297.50 200.41L299.00 199.31L300.50 198.22L302.00 197.13L303.50 196.04L305.00 194.95L306.50 193.87L308.00 192.79L309.50 191.72L311.00 190.65L312.50 189.58L314.00 188.51L315.50 187.45L317.00 186.40L318.50 185.34L320.00 184.29L321.50 183.25L323.00 182.20L324.50 181.16L326.00 180.13L327.50 179.10L329.00 178.07L330.50 177.05L332.00 176.03L333.50 175.01L335.00 174.00L336.50 173.00L338.00 171.99L339.50 171.00L341.00 170.00L342.50 169.01L344.00 168.03L345.50 167.05L347.00 166.07L348.50 165.10L350.00 164.13L351.50 163.17L353.00 162.21L354.50 161.26L356.00 160.31L357.50 159.36L359.00 158.42L360.50 157.49L362.00 156.56L363.50 155.63L365.00 154.71L366.50 153.79L368.00 152.88L369.50 151.97L371.00 151.07L372.50 150.17L374.00 149.28L375.50 148.39L377.00 147.51L378.50 146.63L380.00 145.75L381.50 144.88L383.00 144.01L384.50 143.15L386.00 142.30L387.50 141.44L389.00 140.60L390.50 139.75L392.00 138.91L393.50 138.08L395.00 137.25L396.50 136.43L398.00 135.61L399.50 134.79L401.00 133.98L402.50 133.17L404.00 132.37L405.50 131.57L407.00 130.78L408.50 129.99L410.00 129.21L411.50 128.43L413.00 127.65L414.50 126.88L416.00 126.12L417.50 125.36L419.00 124.60L420.50 123.85L422.00 123.10L423.50 122.36L425.00 121.62L426.50 120.89L428.00 120.16L429.50 119.43L431.00 118.71L432.50 118.00L434.00 117.29L435.50 116.58L437.00 115.88L438.50 115.18L440.00 114.49L441.50 113.80L443.00 113.11L444.50 112.44L446.00 111.76L447.50 111.09L449.00 110.42L450.50 109.76L452.00 109.11L453.50 108.45L455.00 107.81L456.50 107.16L458.00 106.52L459.50 105.89L461.00 105.26L462.50 104.64L464.00 104.01L465.50 103.40L467.00 102.79L468.50 102.18L470.00 101.58L471.50 100.98L473.00 100.39L474.50 99.80L476.00 99.21L477.50 98.63L479.00 98.06L480.50 97.48L482.00 96.92L483.50 96.36L485.00 95.80L486.50 95.24L488.00 94.70L489.50 94.15L491.00 93.61L492.50 93.08L494.00 92.55L495.50 92.02L497.00 91.50L498.50 90.98L500.00 90.47L501.50 89.96L503.00 89.45L504.50 88.96L506.00 88.46L507.50 87.97L509.00 87.48L510.50 87.00L512.00 86.52L513.50 86.05L515.00 85.58L516.50 85.12L518.00 84.66L519.50 84.21L521.00 83.75L522.50 83.31L524.00 82.87L525.50 82.43L527.00 82.00L528.50 81.57L530.00 81.15L531.50 80.73L532.00 80.59"/>
</g>
<g font-family="Liberation Serif, Times New Roman, serif" font-size="20.00" fill="#000">
<text x="57.00" y="395.50" text-anchor="end">0.0</text>
<text x="57.00" y="348.41" text-anchor="end">0.2</text>
<text x="57.00" y="301.32" text-anchor="end">0.4</text>
<text x="57.00" y="254.24" text-anchor="end">0.6</text>
<text x="57.00" y="207.15" text-anchor="end">0.8</text>
<text x="57.00" y="160.06" text-anchor="end">1.0</text>
<text x="57.00" y="112.97" text-anchor="end">1.2</text>
<text x="57.00" y="65.89" text-anchor="end">1.4</text>
<text x="57.00" y="18.80" text-anchor="end">1.6</text>
<text x="69.50" y="418.10" text-anchor="middle">0</text>
<text x="120.89" y="418.10" text-anchor="middle">100</text>
<text x="172.28" y="418.10" text-anchor="middle">200</text>
<text x="223.67" y="418.10" text-anchor="middle">300</text>
<text x="275.06" y="418.10" text-anchor="middle">400</text>
<text x="326.44" y="418.10" text-anchor="middle">500</text>
<text x="377.83" y="418.10" text-anchor="middle">600</text>
<text x="429.22" y="418.10" text-anchor="middle">700</text>
<text x="480.61" y="418.10" text-anchor="middle">800</text>
<text x="532.00" y="418.10" text-anchor="middle">900</text>
</g>
<text x="299.40" y="441.10" text-anchor="middle" font-family="Liberation Serif, serif" font-weight="bold" font-size="21.50">Time(s)</text>
<text transform="translate(21.90 203.40) rotate(-90)" text-anchor="middle" font-family="Liberation Serif, serif" font-weight="bold" font-size="22.40">Torque(N&#8226;m)</text>
<g font-family="Liberation Serif, serif" font-weight="bold" font-size="13.80" fill="#000" stroke="#000" stroke-width="0.25">
<path stroke="#1a1a1a" stroke-width="2.00" d="M71.80 18.70H117.10"/>
<text transform="translate(119.50 25.90) scale(0.902 1)">Pure ESBR</text>
<path stroke="#ff1a1a" stroke-width="2.00" d="M71.80 42.90H117.10"/>
<text transform="translate(119.50 50.10) scale(0.902 1)">20 phr HCGS/ESBR</text>
<path stroke="#0050e0" stroke-width="2.00" d="M71.80 67.10H117.10"/>
<text transform="translate(119.50 74.30) scale(0.902 1)">30 phr HCGS/ESBR</text>
<path stroke="#0ca050" stroke-width="2.00" d="M71.80 91.30H117.10"/>
<text transform="translate(119.50 98.50) scale(0.902 1)">40 phr HCGS/ESBR</text>
<path stroke="#b060e0" stroke-width="2.00" d="M71.80 115.50H117.10"/>
<text transform="translate(119.50 122.70) scale(0.902 1)">50 phr HCGS/ESBR</text>
<path stroke="#e08c00" stroke-width="2.00" d="M71.80 139.70H117.10"/>
<text transform="translate(119.50 146.90) scale(0.902 1)">60 phr HCGS/ESBR</text>
<path stroke="#00c8d0" stroke-width="2.00" d="M71.80 163.90H117.10"/>
<text transform="translate(119.50 171.10) scale(0.902 1)">70 phr HCGS/ESBR</text>
<path stroke="#7a2020" stroke-width="2.00" d="M71.80 188.10H117.10"/>
<text transform="translate(119.50 195.30) scale(0.902 1)">80 phr HCGS/ESBR</text>
<path stroke="#727000" stroke-width="2.00" d="M71.80 212.30H117.10"/>
<text transform="translate(119.50 219.50) scale(0.902 1)">90 phr HCGS/ESBR</text>
<path stroke="#ff4400" stroke-width="2.00" d="M71.80 236.50H117.10"/>
<text transform="translate(119.50 243.70) scale(0.902 1)">100 phr HCGS/ESBR</text>
</g>
</svg>
</body></html>
